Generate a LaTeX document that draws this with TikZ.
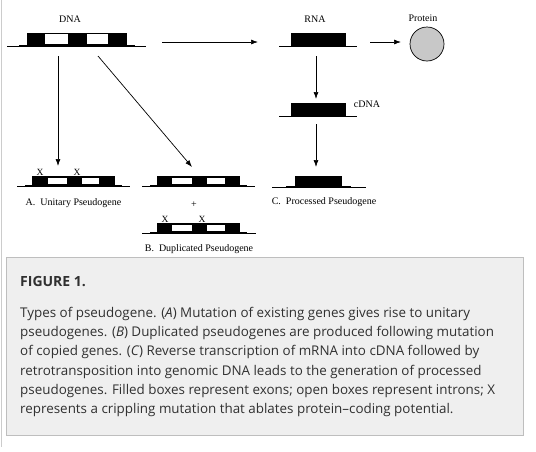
\documentclass[tikz,border=0pt]{standalone}
\usepackage{fontspec}
\setmainfont{Liberation Serif}
\newfontfamily\capfont{Open Sans}
\usetikzlibrary{arrows.meta}
\definecolor{capbg}{HTML}{EFEFEF}
\definecolor{capframe}{HTML}{BEBEBE}
\definecolor{captext}{HTML}{303030}
\definecolor{protfill}{HTML}{C8C8C8}
\definecolor{pageline}{HTML}{CCCCCC}
\tikzset{
  dnaline/.style={line width=0.9pt},
  strip/.style={fill=black},
  exonbox/.style={fill=black},
  intronbox/.style={fill=white},
  flow/.style={line width=0.7pt,-{Latex[length=7pt,width=5pt]}},
  lbl/.style={font=\fontsize{10}{12}\selectfont, anchor=base, inner sep=0pt},
  xmark/.style={font=\fontsize{9.5}{11}\selectfont, anchor=base, inner sep=0pt},
  capline/.style={font=\capfont\fontsize{13.4}{15}\selectfont, text=captext, anchor=base west, inner sep=0pt},
}
\begin{document}
\begin{tikzpicture}[x=1pt,y=-1pt]
\useasboundingbox (0,0) rectangle (536,451);
% page edge line
\draw[pageline, line width=1pt] (1.5,0) -- (1.5,447);

% ---------- DNA gene ----------
\draw[dnaline] (7,46) -- (146,46);
\fill[strip] (19,44.8) rectangle (135,47.3);
\fill[exonbox] (27,32.5) rectangle (127,45.5);
\fill[intronbox] (45,34.3) rectangle (68,44);
\fill[intronbox] (87,34.3) rectangle (108,44);
\node[lbl] (dnalbl) at (70,22) {DNA};

% ---------- RNA gene ----------
\draw[line width=1.6pt] (279,46.5) -- (357,46.5);
\fill[exonbox] (291,33) rectangle (346,46);
\node[lbl] (rnalbl) at (315,22) {RNA};

% ---------- Protein ----------
\node[circle, draw=black, line width=0.7pt, fill=protfill, minimum size=34pt, inner sep=0pt] (protein) at (427,44) {};
\node[lbl] (protlbl) at (423,21) {Protein};

% ---------- cDNA ----------
\draw[line width=1.6pt] (279,116.5) -- (357,116.5);
\fill[exonbox] (291,103) rectangle (346,116);
\node[lbl] (cdnalbl) at (367,107) {cDNA};

% ---------- A: unitary ----------
\draw[dnaline] (17,186) -- (130,186);
\fill[strip] (25,184.8) rectangle (122,187.3);
\fill[exonbox] (32,175.8) rectangle (115,185.5);
\fill[intronbox] (48,177.6) rectangle (67,184.3);
\fill[intronbox] (82,177.6) rectangle (99,184.3);
\node[xmark] (xa1) at (40,175) {X};
\node[xmark] (xa2) at (77,175) {X};
\node[lbl] (alabel) at (73.5,205) {A.\ \ Unitary Pseudogene};

% ---------- B: duplicated (top) ----------
\draw[dnaline] (142,186) -- (255,186);
\fill[strip] (150,184.8) rectangle (247,187.3);
\fill[exonbox] (157,175.8) rectangle (240,185.5);
\fill[intronbox] (172,177.6) rectangle (192,184.3);
\fill[intronbox] (207,177.6) rectangle (225,184.3);
\node[lbl] (plus) at (194,207) {+};

% ---------- B: duplicated (bottom) ----------
\draw[dnaline] (142,233) -- (256,233);
\fill[strip] (150,231.8) rectangle (247,234.3);
\fill[exonbox] (157,222.8) rectangle (240,232.5);
\fill[intronbox] (172,224.6) rectangle (192,231.3);
\fill[intronbox] (207,224.6) rectangle (225,231.3);
\node[xmark] (xb1) at (165,222) {X};
\node[xmark] (xb2) at (202,222) {X};
\node[lbl] (blabel) at (199,251) {B.\ \ Duplicated Pseudogene};

% ---------- C: processed ----------
\draw[dnaline] (272,187) -- (366,187);
\fill[strip] (286,185.8) rectangle (351,188.3);
\fill[exonbox] (295,176) rectangle (342,186.5);
\node[lbl] (clabel) at (324,204) {C.\ \ Processed Pseudogene};

% ---------- connector end points ----------
\coordinate (dnaR) at (162,42);
\coordinate (rnaL) at (258,42);
\coordinate (rnaR) at (370,42);
\coordinate (protL) at (401,42);
\coordinate (dnaD1) at (58,56);
\coordinate (aTop) at (58,166);
\coordinate (dnaD2) at (98,56);
\coordinate (bTop) at (192,167);
\coordinate (rnaD) at (316,56);
\coordinate (cdnaTop) at (316,99);
\coordinate (cdnaD) at (316,124);
\coordinate (cTop) at (316,167);

\draw[flow] (dnaR) -- (rnaL);
\draw[flow] (rnaR) -- (protL);
\draw[flow] (dnaD1) -- (aTop);
\draw[flow] (dnaD2) -- (bTop);
\draw[flow] (rnaD) -- (cdnaTop);
\draw[flow] (cdnaD) -- (cTop);

% ---------- caption ----------
\node[draw=capframe, fill=capbg, line width=0.8pt, minimum width=517pt, minimum height=178pt, anchor=north west, inner sep=0pt] (capbox) at (6,257) {};
\node[capline, font=\capfont\bfseries\fontsize{14}{16}\selectfont] (fig) at (20,286) {FIGURE 1.};
\node[capline] (c1) at (20,317) {Types of pseudogene. (\textit{A}) Mutation of existing genes gives rise to unitary};
\node[capline] (c2) at (20,336) {pseudogenes. (\textit{B}) Duplicated pseudogenes are produced following mutation};
\node[capline] (c3) at (20,355.5) {of copied genes. (\textit{C}) Reverse transcription of mRNA into cDNA followed by};
\node[capline] (c4) at (20,375) {retrotransposition into genomic DNA leads to the generation of processed};
\node[capline] (c5) at (20,394) {pseudogenes. Filled boxes represent exons; open boxes represent introns; X};
\node[capline] (c6) at (20,413.5) {represents a crippling mutation that ablates protein–coding potential.};
\end{tikzpicture}
\end{document}
